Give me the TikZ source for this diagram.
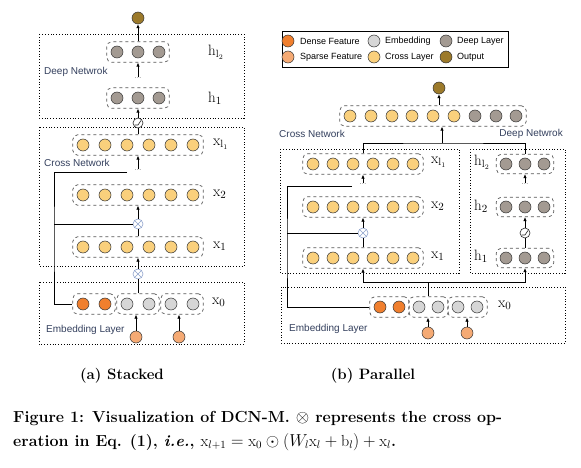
\documentclass[tikz,border=0pt]{standalone}
\usepackage{tikz}
\usepackage{amsmath}
\usepackage{amssymb}
\usepackage{fontspec}
\setsansfont{Liberation Sans}
\usetikzlibrary{arrows.meta, fit}

\definecolor{densec}{HTML}{F07F2E}
\definecolor{sparsec}{HTML}{F5AA74}
\definecolor{embc}{HTML}{D6D6D6}
\definecolor{crossc}{HTML}{FAD07C}
\definecolor{deepc}{HTML}{A39A92}
\definecolor{outc}{HTML}{9C7A2B}
\definecolor{labc}{HTML}{34405E}
\definecolor{opc}{HTML}{8FA3CC}

\tikzset{
  unit/.style={circle, draw=black!80, line width=0.5pt, minimum size=12pt, inner sep=0pt},
  dunit/.style={unit, fill=densec},
  sunit/.style={unit, fill=sparsec},
  eunit/.style={unit, fill=embc},
  cunit/.style={unit, fill=crossc},
  hunit/.style={unit, fill=deepc},
  ounit/.style={unit, fill=outc},
  rowbox/.style={draw=black!65, dashed, line width=0.7pt, rounded corners=5pt, inner sep=4pt},
  netbox/.style={draw=black, dotted, line width=0.8pt},
  netlab/.style={font=\sffamily\fontsize{10}{11}\selectfont, text=labc, inner sep=0pt},
  leglab/.style={font=\sffamily\fontsize{9}{10}\selectfont, anchor=west, inner sep=0pt},
  vlab/.style={font=\fontsize{15}{17}\selectfont, anchor=west, inner sep=0pt},
  dotlab/.style={font=\fontsize{7}{7}\selectfont, inner sep=0.5pt},
  arr/.style={-{Latex[length=4pt, width=3.5pt]}, line width=0.7pt},
  link/.style={line width=0.8pt},
  xop/.style={circle, draw=opc, fill=white, line width=0.6pt, minimum size=10pt, inner sep=0pt,
    path picture={\draw [opc, line width=0.6pt]
      ([shift={(45:5pt)}]path picture bounding box.center) -- ([shift={(225:5pt)}]path picture bounding box.center)
      ([shift={(135:5pt)}]path picture bounding box.center) -- ([shift={(315:5pt)}]path picture bounding box.center);}},
  relu/.style={circle, draw=black!85, fill=white, line width=0.6pt, minimum size=10pt, inner sep=0pt,
    path picture={\draw [line width=0.6pt]
      ([shift={(-3.5pt,-2pt)}]path picture bounding box.center) -- ([shift={(0pt,-2pt)}]path picture bounding box.center)
      -- ([shift={(3pt,2.5pt)}]path picture bounding box.center);}}
}

\begin{document}
\begin{tikzpicture}[x=1pt, y=-1pt]
\useasboundingbox [fill=white] (0, 0) rectangle (581, 468);

% (a) stacked
\draw [netbox] (39, 34) rectangle (244, 118);
\draw [netbox] (39, 127) rectangle (244, 266);
\draw [netbox] (39, 282) rectangle (244, 344);

\node [ounit] (lo) at (138, 18) {};

\node [hunit] (lh21) at (117, 52) {};
\node [hunit] (lh22) at (138, 52) {};
\node [hunit] (lh23) at (159, 52) {};
\node [rowbox, fit=(lh21) (lh23)] (lhl) {};
\node [hunit] (lh11) at (117, 98) {};
\node [hunit] (lh12) at (138, 98) {};
\node [hunit] (lh13) at (159, 98) {};
\node [rowbox, fit=(lh11) (lh13)] (lh1) {};
\node [dotlab] (ldd) at (138, 78) {...};
\node [relu] (lr) at (138, 123) {};

\node [cunit] (la1) at (83, 145) {};
\node [cunit] (la2) at (105, 145) {};
\node [cunit] (la3) at (127, 145) {};
\node [cunit] (la4) at (149, 145) {};
\node [cunit] (la5) at (171, 145) {};
\node [cunit] (la6) at (193, 145) {};
\node [rowbox, fit=(la1) (la6)] (lxl) {};
\node [dotlab] (ldc) at (138, 170) {...};

\node [cunit] (lb1) at (83, 195) {};
\node [cunit] (lb2) at (105, 195) {};
\node [cunit] (lb3) at (127, 195) {};
\node [cunit] (lb4) at (149, 195) {};
\node [cunit] (lb5) at (171, 195) {};
\node [cunit] (lb6) at (193, 195) {};
\node [rowbox, fit=(lb1) (lb6)] (lx2) {};
\node [xop] (lop1) at (138, 224) {};

\node [cunit] (lc1) at (83, 247) {};
\node [cunit] (lc2) at (105, 247) {};
\node [cunit] (lc3) at (127, 247) {};
\node [cunit] (lc4) at (149, 247) {};
\node [cunit] (lc5) at (171, 247) {};
\node [cunit] (lc6) at (193, 247) {};
\node [rowbox, fit=(lc1) (lc6)] (lx1) {};
\node [xop] (lop0) at (138, 274) {};

\node [dunit] (le1) at (83, 304) {};
\node [dunit] (le2) at (105, 304) {};
\node [eunit] (le3) at (127, 304) {};
\node [eunit] (le4) at (149, 304) {};
\node [eunit] (le5) at (171, 304) {};
\node [eunit] (le6) at (193, 304) {};
\node [rowbox, fit=(le1) (le2)] (lx0a) {};
\node [rowbox, fit=(le3) (le4)] (lx0b) {};
\node [rowbox, fit=(le5) (le6)] (lx0c) {};
\node [sunit] (ls1) at (136, 337) {};
\node [sunit] (ls2) at (179, 337) {};

\node [vlab] (lhlt) at (208, 52) {$\mathrm{h}_{\mathrm{l}_2}$};
\node [vlab] (lh1t) at (208, 98) {$\mathrm{h}_1$};
\node [vlab] (lxlt) at (213, 144) {$\mathrm{x}_{\mathrm{l}_1}$};
\node [vlab] (lx2t) at (213, 194) {$\mathrm{x}_2$};
\node [vlab] (lx1t) at (213, 246) {$\mathrm{x}_1$};
\node [vlab] (lx0t) at (212, 302) {$\mathrm{x}_0$};

\node [netlab, anchor=west] (ldn) at (44, 72) {Deep Netwrok};
\node [netlab, anchor=west] (lcn) at (44, 163) {Cross Network};
\node [netlab, anchor=west] (lem) at (46, 330) {Embedding Layer};

\draw [arr] (lhl.north) -- (lo);
\draw [arr] (ldd) -- (lhl.south);
\draw [arr] (lr) -- (lh1.south);
\draw [link] (lxl.north) -- (lr);
\draw [arr] (ldc) -- (lxl.south);
\draw [arr] (lop1) -- (lx2.south);
\draw [link] (lx1.north) -- (lop1);
\draw [arr] (lop0) -- (lx1.south);
\draw [link] (lx0b.north) -- (lop0);
\draw [arr] (ls1) -- (ls1 |- lx0b.south);
\draw [arr] (ls2) -- (ls2 |- lx0c.south);
\coordinate (lk) at (127, 172);
\coordinate (lskip) at (54, 240);
\draw [link] (lk) -| (lskip) |- (lx0a.west);
\draw [link] (lskip |- lop1) -- (lop1);

% (b) parallel
\draw [line width=0.8pt] (282, 31) rectangle (508, 67);
\node [dunit] (g1) at (288, 41) {};
\node [leglab] (g1t) at (300, 41) {Dense Feature};
\node [sunit] (g2) at (288, 57) {};
\node [leglab] (g2t) at (300, 57) {Sparse Feature};
\node [eunit] (g3) at (374, 41) {};
\node [leglab] (g3t) at (385, 41) {Embedding};
\node [cunit] (g4) at (374, 57) {};
\node [leglab] (g4t) at (385, 57) {Cross Layer};
\node [hunit] (g5) at (446, 41) {};
\node [leglab] (g5t) at (457, 41) {Deep Layer};
\node [ounit] (g6) at (446, 57) {};
\node [leglab] (g6t) at (457, 57) {Output};

\draw [netbox] (280, 149) rectangle (459, 273);
\draw [netbox] (470, 149) rectangle (565, 273);
\draw [netbox] (281, 287) rectangle (565, 343);

\node [ounit] (ro) at (439, 88) {};
\node [cunit] (rc1) at (350, 116) {};
\node [cunit] (rc2) at (371, 116) {};
\node [cunit] (rc3) at (392, 116) {};
\node [cunit] (rc4) at (412, 116) {};
\node [cunit] (rc5) at (433, 116) {};
\node [cunit] (rc6) at (454, 116) {};
\node [hunit] (rc7) at (475, 116) {};
\node [hunit] (rc8) at (496, 116) {};
\node [hunit] (rc9) at (516, 116) {};
\node [rowbox, fit=(rc1) (rc9)] (rc) {};

\node [cunit] (ra1) at (313, 164) {};
\node [cunit] (ra2) at (333, 164) {};
\node [cunit] (ra3) at (353, 164) {};
\node [cunit] (ra4) at (373, 164) {};
\node [cunit] (ra5) at (393, 164) {};
\node [cunit] (ra6) at (413, 164) {};
\node [rowbox, fit=(ra1) (ra6)] (rxl) {};
\node [dotlab] (rdc) at (363, 184) {...};

\node [cunit] (rb1) at (313, 207) {};
\node [cunit] (rb2) at (333, 207) {};
\node [cunit] (rb3) at (353, 207) {};
\node [cunit] (rb4) at (373, 207) {};
\node [cunit] (rb5) at (393, 207) {};
\node [cunit] (rb6) at (413, 207) {};
\node [rowbox, fit=(rb1) (rb6)] (rx2) {};
\node [xop] (rop) at (363, 233) {};

\node [cunit] (rd1) at (313, 258) {};
\node [cunit] (rd2) at (333, 258) {};
\node [cunit] (rd3) at (353, 258) {};
\node [cunit] (rd4) at (373, 258) {};
\node [cunit] (rd5) at (393, 258) {};
\node [cunit] (rd6) at (413, 258) {};
\node [rowbox, fit=(rd1) (rd6)] (rx1) {};

\node [hunit] (rh21) at (506, 164) {};
\node [hunit] (rh22) at (525, 164) {};
\node [hunit] (rh23) at (544, 164) {};
\node [rowbox, inner sep=3.5pt, fit=(rh21) (rh23)] (rhl) {};
\node [dotlab] (rdd) at (525, 184) {...};
\node [hunit] (rh31) at (506, 207) {};
\node [hunit] (rh32) at (525, 207) {};
\node [hunit] (rh33) at (544, 207) {};
\node [rowbox, inner sep=3.5pt, fit=(rh31) (rh33)] (rh2) {};
\node [relu] (rr) at (525, 233) {};
\node [hunit] (rh11) at (506, 258) {};
\node [hunit] (rh12) at (525, 258) {};
\node [hunit] (rh13) at (544, 258) {};
\node [rowbox, inner sep=3.5pt, fit=(rh11) (rh13)] (rh1) {};

\node [dunit] (re1) at (380, 307) {};
\node [dunit] (re2) at (399, 307) {};
\node [eunit] (re3) at (419, 307) {};
\node [eunit] (re4) at (438, 307) {};
\node [eunit] (re5) at (458, 307) {};
\node [eunit] (re6) at (477, 307) {};
\node [rowbox, fit=(re1) (re2)] (rx0a) {};
\node [rowbox, fit=(re3) (re4)] (rx0b) {};
\node [rowbox, fit=(re5) (re6)] (rx0c) {};
\node [sunit] (rs1) at (428, 333) {};
\node [sunit] (rs2) at (467, 333) {};

\node [vlab] (rxlt) at (431, 162) {$\mathrm{x}_{\mathrm{l}_1}$};
\node [vlab] (rx2t) at (431, 206) {$\mathrm{x}_2$};
\node [vlab] (rx1t) at (431, 256) {$\mathrm{x}_1$};
\node [vlab] (rx0t) at (498, 305) {$\mathrm{x}_0$};
\node [vlab] (rhlt) at (474, 162) {$\mathrm{h}_{\mathrm{l}_2}$};
\node [vlab] (rh2t) at (474, 206) {$\mathrm{h}_2$};
\node [vlab] (rh1t) at (474, 256) {$\mathrm{h}_1$};

\node [netlab, anchor=west] (rcn) at (279, 134) {Cross Network};
\node [netlab, anchor=east] (rdn) at (563, 134) {Deep Netwrok};
\node [netlab, anchor=west] (rem) at (289, 329) {Embedding Layer};

\coordinate (rm) at (442, 143);
\draw [arr] (rc.north -| ro) -- (ro);
\draw [link] (rxl.north) |- (rm) -| (rhl.north);
\draw [arr] (rm) -- (rm |- rc.south);
\draw [arr] (rdc) -- (rxl.south);
\draw [arr] (rop) -- (rx2.south);
\draw [link] (rx1.north) -- (rop);
\draw [arr] (rdd) -- (rhl.south);
\draw [arr] (rr) -- (rh2.south);
\draw [link] (rh1.north) -- (rr);
\coordinate (rsp) at (428.5, 282);
\draw [link] (rx0b.north) -- (rsp);
\draw [arr] (rsp) -| (rx1.south);
\draw [arr] (rsp) -| (rh1.south);
\draw [arr] (rs1) -- (rs1 |- rx0b.south);
\draw [arr] (rs2) -- (rs2 |- rx0c.south);
\coordinate (rk) at (352, 186);
\coordinate (rskip) at (287, 250);
\draw [link] (rk) -| (rskip) |- (rx0a.west);
\draw [link] (rskip |- rop) -- (rop);

% captions
\node [font=\bfseries\fontsize{15}{17}\selectfont] (capa) at (122, 376) {(a) Stacked};
\node [font=\bfseries\fontsize{15}{17}\selectfont] (capb) at (373, 376) {(b) Parallel};
\node [anchor=base west, inner sep=0pt, font=\bfseries\fontsize{16}{19}\selectfont] (fig1) at (13, 422)
  {Figure 1: Visualization of DCN-M. $\otimes$ represents the cross op-};
\node [anchor=base west, inner sep=0pt, font=\bfseries\fontsize{16}{19}\selectfont] (fig2) at (13, 446)
  {eration in Eq. (1), \textit{i.e.}, $\mathrm{x}_{l+1} = \mathrm{x}_0 \odot (W_l\mathrm{x}_l + \mathrm{b}_l) + \mathrm{x}_l$.};
\end{tikzpicture}
\end{document}
